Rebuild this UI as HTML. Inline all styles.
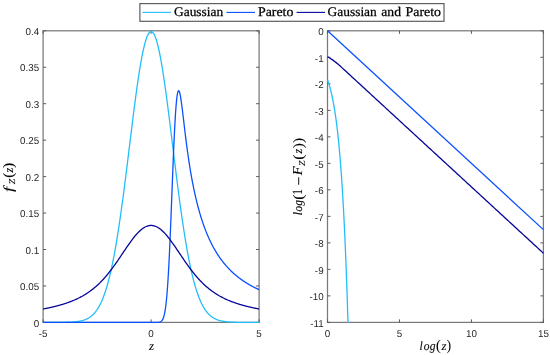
<!DOCTYPE html>
<html lang="en">
<head>
<meta charset="utf-8">
<title>Gaussian, Pareto, Gaussian and Pareto</title>
<style>
html,body{margin:0;padding:0;background:#ffffff;}
body{width:550px;height:355px;overflow:hidden;}
svg{display:block;}
</style>
</head>
<body>
<svg width="550" height="355" viewBox="0 0 550 355" text-rendering="geometricPrecision">
<rect x="0" y="0" width="550" height="355" fill="#ffffff"/>
<defs><clipPath id="cl"><rect x="42.4" y="30.1" width="217.4" height="293"/></clipPath><clipPath id="cr"><rect x="326.8" y="30.1" width="217.3" height="293"/></clipPath></defs>
<rect x="43.1" y="30.8" width="216" height="291.6" fill="none" stroke="#7a7a7a" stroke-width="1.25"/>
<path d="M43.10,322.4 v-3 M43.10,30.8 v3 M151.10,322.4 v-3 M151.10,30.8 v3 M259.10,322.4 v-3 M259.10,30.8 v3 M43.1,322.40 h3 M259.1,322.40 h-3 M43.1,285.95 h3 M259.1,285.95 h-3 M43.1,249.50 h3 M259.1,249.50 h-3 M43.1,213.05 h3 M259.1,213.05 h-3 M43.1,176.60 h3 M259.1,176.60 h-3 M43.1,140.15 h3 M259.1,140.15 h-3 M43.1,103.70 h3 M259.1,103.70 h-3 M43.1,67.25 h3 M259.1,67.25 h-3 M43.1,30.80 h3 M259.1,30.80 h-3 " fill="none" stroke="#5a5a5a" stroke-width="1"/>
<rect x="327.5" y="30.8" width="215.9" height="291.6" fill="none" stroke="#7a7a7a" stroke-width="1.25"/>
<path d="M327.50,322.4 v-3 M327.50,30.8 v3 M399.47,322.4 v-3 M399.47,30.8 v3 M471.43,322.4 v-3 M471.43,30.8 v3 M543.40,322.4 v-3 M543.40,30.8 v3 M327.5,30.80 h3 M543.4,30.80 h-3 M327.5,57.31 h3 M543.4,57.31 h-3 M327.5,83.82 h3 M543.4,83.82 h-3 M327.5,110.33 h3 M543.4,110.33 h-3 M327.5,136.84 h3 M543.4,136.84 h-3 M327.5,163.35 h3 M543.4,163.35 h-3 M327.5,189.85 h3 M543.4,189.85 h-3 M327.5,216.36 h3 M543.4,216.36 h-3 M327.5,242.87 h3 M543.4,242.87 h-3 M327.5,269.38 h3 M543.4,269.38 h-3 M327.5,295.89 h3 M543.4,295.89 h-3 M327.5,322.40 h3 M543.4,322.40 h-3 " fill="none" stroke="#5a5a5a" stroke-width="1"/>
<g font-family="'Liberation Sans', Arial, sans-serif" font-size="10px" fill="#262626">
<text transform="translate(43.10,336.6) scale(0.98,1)" text-anchor="middle">-5</text>
<text transform="translate(151.10,336.6) scale(0.98,1)" text-anchor="middle">0</text>
<text transform="translate(259.10,336.6) scale(0.98,1)" text-anchor="middle">5</text>
<text transform="translate(39.20,326.60) scale(0.98,1)" text-anchor="end">0</text>
<text transform="translate(39.20,290.15) scale(0.98,1)" text-anchor="end">0.05</text>
<text transform="translate(39.20,253.70) scale(0.98,1)" text-anchor="end">0.1</text>
<text transform="translate(39.20,217.25) scale(0.98,1)" text-anchor="end">0.15</text>
<text transform="translate(39.20,180.80) scale(0.98,1)" text-anchor="end">0.2</text>
<text transform="translate(39.20,144.35) scale(0.98,1)" text-anchor="end">0.25</text>
<text transform="translate(39.20,107.90) scale(0.98,1)" text-anchor="end">0.3</text>
<text transform="translate(39.20,71.45) scale(0.98,1)" text-anchor="end">0.35</text>
<text transform="translate(39.20,35.00) scale(0.98,1)" text-anchor="end">0.4</text>
<text transform="translate(327.50,336.6) scale(0.98,1)" text-anchor="middle">0</text>
<text transform="translate(399.47,336.6) scale(0.98,1)" text-anchor="middle">5</text>
<text transform="translate(471.43,336.6) scale(0.98,1)" text-anchor="middle">10</text>
<text transform="translate(543.40,336.6) scale(0.98,1)" text-anchor="middle">15</text>
<text transform="translate(323.60,35.00) scale(0.98,1)" text-anchor="end">0</text>
<text transform="translate(323.60,61.51) scale(0.98,1)" text-anchor="end">-1</text>
<text transform="translate(323.60,88.02) scale(0.98,1)" text-anchor="end">-2</text>
<text transform="translate(323.60,114.53) scale(0.98,1)" text-anchor="end">-3</text>
<text transform="translate(323.60,141.04) scale(0.98,1)" text-anchor="end">-4</text>
<text transform="translate(323.60,167.55) scale(0.98,1)" text-anchor="end">-5</text>
<text transform="translate(323.60,194.05) scale(0.98,1)" text-anchor="end">-6</text>
<text transform="translate(323.60,220.56) scale(0.98,1)" text-anchor="end">-7</text>
<text transform="translate(323.60,247.07) scale(0.98,1)" text-anchor="end">-8</text>
<text transform="translate(323.60,273.58) scale(0.98,1)" text-anchor="end">-9</text>
<text transform="translate(323.60,300.09) scale(0.98,1)" text-anchor="end">-10</text>
<text transform="translate(323.60,326.60) scale(0.98,1)" text-anchor="end">-11</text>
</g>
<g fill="none" stroke-width="1.3" stroke-linejoin="round" clip-path="url(#cl)">
<path d="M43.10,322.40 L43.64,322.40 L44.18,322.40 L44.72,322.40 L45.26,322.40 L45.80,322.40 L46.34,322.40 L46.88,322.40 L47.42,322.40 L47.96,322.40 L48.50,322.40 L49.04,322.40 L49.58,322.40 L50.12,322.39 L50.66,322.39 L51.20,322.39 L51.74,322.39 L52.28,322.39 L52.82,322.39 L53.36,322.39 L53.90,322.39 L54.44,322.39 L54.98,322.39 L55.52,322.38 L56.06,322.38 L56.60,322.38 L57.14,322.38 L57.68,322.37 L58.22,322.37 L58.76,322.37 L59.30,322.37 L59.84,322.36 L60.38,322.36 L60.92,322.35 L61.46,322.35 L62.00,322.34 L62.54,322.33 L63.08,322.33 L63.62,322.32 L64.16,322.31 L64.70,322.30 L65.24,322.29 L65.78,322.28 L66.32,322.27 L66.86,322.26 L67.40,322.24 L67.94,322.22 L68.48,322.21 L69.02,322.19 L69.56,322.17 L70.10,322.14 L70.64,322.12 L71.18,322.09 L71.72,322.06 L72.26,322.03 L72.80,321.99 L73.34,321.95 L73.88,321.91 L74.42,321.87 L74.96,321.82 L75.50,321.76 L76.04,321.71 L76.58,321.64 L77.12,321.58 L77.66,321.50 L78.20,321.42 L78.74,321.34 L79.28,321.24 L79.82,321.14 L80.36,321.04 L80.90,320.92 L81.44,320.80 L81.98,320.66 L82.52,320.52 L83.06,320.36 L83.60,320.20 L84.14,320.02 L84.68,319.83 L85.22,319.62 L85.76,319.40 L86.30,319.17 L86.84,318.92 L87.38,318.65 L87.92,318.37 L88.46,318.06 L89.00,317.74 L89.54,317.39 L90.08,317.02 L90.62,316.63 L91.16,316.21 L91.70,315.77 L92.24,315.30 L92.78,314.80 L93.32,314.28 L93.86,313.72 L94.40,313.12 L94.94,312.50 L95.48,311.84 L96.02,311.14 L96.56,310.40 L97.10,309.62 L97.64,308.80 L98.18,307.94 L98.72,307.03 L99.26,306.07 L99.80,305.07 L100.34,304.02 L100.88,302.91 L101.42,301.75 L101.96,300.53 L102.50,299.26 L103.04,297.93 L103.58,296.54 L104.12,295.09 L104.66,293.57 L105.20,291.99 L105.74,290.34 L106.28,288.62 L106.82,286.83 L107.36,284.97 L107.90,283.04 L108.44,281.04 L108.98,278.96 L109.52,276.80 L110.06,274.57 L110.60,272.25 L111.14,269.86 L111.68,267.40 L112.22,264.85 L112.76,262.22 L113.30,259.50 L113.84,256.71 L114.38,253.84 L114.92,250.88 L115.46,247.85 L116.00,244.73 L116.54,241.54 L117.08,238.26 L117.62,234.91 L118.16,231.49 L118.70,227.98 L119.24,224.40 L119.78,220.76 L120.32,217.04 L120.86,213.25 L121.40,209.40 L121.94,205.48 L122.48,201.50 L123.02,197.47 L123.56,193.39 L124.10,189.25 L124.64,185.07 L125.18,180.84 L125.72,176.57 L126.26,172.27 L126.80,167.94 L127.34,163.59 L127.88,159.21 L128.42,154.82 L128.96,150.41 L129.50,146.00 L130.04,141.59 L130.58,137.19 L131.12,132.80 L131.66,128.42 L132.20,124.07 L132.74,119.75 L133.28,115.46 L133.82,111.21 L134.36,107.02 L134.90,102.87 L135.44,98.79 L135.98,94.77 L136.52,90.82 L137.06,86.95 L137.60,83.17 L138.14,79.48 L138.68,75.89 L139.22,72.39 L139.76,69.01 L140.30,65.74 L140.84,62.60 L141.38,59.58 L141.92,56.69 L142.46,53.93 L143.00,51.32 L143.54,48.85 L144.08,46.53 L144.62,44.37 L145.16,42.36 L145.70,40.52 L146.24,38.84 L146.78,37.33 L147.32,35.99 L147.86,34.82 L148.40,33.83 L148.94,33.02 L149.48,32.39 L150.02,31.93 L150.56,31.66 L151.10,31.57 L151.64,31.66 L152.18,31.93 L152.72,32.39 L153.26,33.02 L153.80,33.83 L154.34,34.82 L154.88,35.99 L155.42,37.33 L155.96,38.84 L156.50,40.52 L157.04,42.36 L157.58,44.37 L158.12,46.53 L158.66,48.85 L159.20,51.32 L159.74,53.93 L160.28,56.69 L160.82,59.58 L161.36,62.60 L161.90,65.74 L162.44,69.01 L162.98,72.39 L163.52,75.89 L164.06,79.48 L164.60,83.17 L165.14,86.95 L165.68,90.82 L166.22,94.77 L166.76,98.79 L167.30,102.87 L167.84,107.02 L168.38,111.21 L168.92,115.46 L169.46,119.75 L170.00,124.07 L170.54,128.42 L171.08,132.80 L171.62,137.19 L172.16,141.59 L172.70,146.00 L173.24,150.41 L173.78,154.82 L174.32,159.21 L174.86,163.59 L175.40,167.94 L175.94,172.27 L176.48,176.57 L177.02,180.84 L177.56,185.07 L178.10,189.25 L178.64,193.39 L179.18,197.47 L179.72,201.50 L180.26,205.48 L180.80,209.40 L181.34,213.25 L181.88,217.04 L182.42,220.76 L182.96,224.40 L183.50,227.98 L184.04,231.49 L184.58,234.91 L185.12,238.26 L185.66,241.54 L186.20,244.73 L186.74,247.85 L187.28,250.88 L187.82,253.84 L188.36,256.71 L188.90,259.50 L189.44,262.22 L189.98,264.85 L190.52,267.40 L191.06,269.86 L191.60,272.25 L192.14,274.57 L192.68,276.80 L193.22,278.96 L193.76,281.04 L194.30,283.04 L194.84,284.97 L195.38,286.83 L195.92,288.62 L196.46,290.34 L197.00,291.99 L197.54,293.57 L198.08,295.09 L198.62,296.54 L199.16,297.93 L199.70,299.26 L200.24,300.53 L200.78,301.75 L201.32,302.91 L201.86,304.02 L202.40,305.07 L202.94,306.07 L203.48,307.03 L204.02,307.94 L204.56,308.80 L205.10,309.62 L205.64,310.40 L206.18,311.14 L206.72,311.84 L207.26,312.50 L207.80,313.12 L208.34,313.72 L208.88,314.28 L209.42,314.80 L209.96,315.30 L210.50,315.77 L211.04,316.21 L211.58,316.63 L212.12,317.02 L212.66,317.39 L213.20,317.74 L213.74,318.06 L214.28,318.37 L214.82,318.65 L215.36,318.92 L215.90,319.17 L216.44,319.40 L216.98,319.62 L217.52,319.83 L218.06,320.02 L218.60,320.20 L219.14,320.36 L219.68,320.52 L220.22,320.66 L220.76,320.80 L221.30,320.92 L221.84,321.04 L222.38,321.14 L222.92,321.24 L223.46,321.34 L224.00,321.42 L224.54,321.50 L225.08,321.58 L225.62,321.64 L226.16,321.71 L226.70,321.76 L227.24,321.82 L227.78,321.87 L228.32,321.91 L228.86,321.95 L229.40,321.99 L229.94,322.03 L230.48,322.06 L231.02,322.09 L231.56,322.12 L232.10,322.14 L232.64,322.17 L233.18,322.19 L233.72,322.21 L234.26,322.22 L234.80,322.24 L235.34,322.26 L235.88,322.27 L236.42,322.28 L236.96,322.29 L237.50,322.30 L238.04,322.31 L238.58,322.32 L239.12,322.33 L239.66,322.33 L240.20,322.34 L240.74,322.35 L241.28,322.35 L241.82,322.36 L242.36,322.36 L242.90,322.37 L243.44,322.37 L243.98,322.37 L244.52,322.37 L245.06,322.38 L245.60,322.38 L246.14,322.38 L246.68,322.38 L247.22,322.39 L247.76,322.39 L248.30,322.39 L248.84,322.39 L249.38,322.39 L249.92,322.39 L250.46,322.39 L251.00,322.39 L251.54,322.39 L252.08,322.39 L252.62,322.40 L253.16,322.40 L253.70,322.40 L254.24,322.40 L254.78,322.40 L255.32,322.40 L255.86,322.40 L256.40,322.40 L256.94,322.40 L257.48,322.40 L258.02,322.40 L258.56,322.40 L259.10,322.40" stroke="#22BEFA"/>
<path d="M43.10,322.40 L43.64,322.40 L44.18,322.40 L44.72,322.40 L45.26,322.40 L45.80,322.40 L46.34,322.40 L46.88,322.40 L47.42,322.40 L47.96,322.40 L48.50,322.40 L49.04,322.40 L49.58,322.40 L50.12,322.40 L50.66,322.40 L51.20,322.40 L51.74,322.40 L52.28,322.40 L52.82,322.40 L53.36,322.40 L53.90,322.40 L54.44,322.40 L54.98,322.40 L55.52,322.40 L56.06,322.40 L56.60,322.40 L57.14,322.40 L57.68,322.40 L58.22,322.40 L58.76,322.40 L59.30,322.40 L59.84,322.40 L60.38,322.40 L60.92,322.40 L61.46,322.40 L62.00,322.40 L62.54,322.40 L63.08,322.40 L63.62,322.40 L64.16,322.40 L64.70,322.40 L65.24,322.40 L65.78,322.40 L66.32,322.40 L66.86,322.40 L67.40,322.40 L67.94,322.40 L68.48,322.40 L69.02,322.40 L69.56,322.40 L70.10,322.40 L70.64,322.40 L71.18,322.40 L71.72,322.40 L72.26,322.40 L72.80,322.40 L73.34,322.40 L73.88,322.40 L74.42,322.40 L74.96,322.40 L75.50,322.40 L76.04,322.40 L76.58,322.40 L77.12,322.40 L77.66,322.40 L78.20,322.40 L78.74,322.40 L79.28,322.40 L79.82,322.40 L80.36,322.40 L80.90,322.40 L81.44,322.40 L81.98,322.40 L82.52,322.40 L83.06,322.40 L83.60,322.40 L84.14,322.40 L84.68,322.40 L85.22,322.40 L85.76,322.40 L86.30,322.40 L86.84,322.40 L87.38,322.40 L87.92,322.40 L88.46,322.40 L89.00,322.40 L89.54,322.40 L90.08,322.40 L90.62,322.40 L91.16,322.40 L91.70,322.40 L92.24,322.40 L92.78,322.40 L93.32,322.40 L93.86,322.40 L94.40,322.40 L94.94,322.40 L95.48,322.40 L96.02,322.40 L96.56,322.40 L97.10,322.40 L97.64,322.40 L98.18,322.40 L98.72,322.40 L99.26,322.40 L99.80,322.40 L100.34,322.40 L100.88,322.40 L101.42,322.40 L101.96,322.40 L102.50,322.40 L103.04,322.40 L103.58,322.40 L104.12,322.40 L104.66,322.40 L105.20,322.40 L105.74,322.40 L106.28,322.40 L106.82,322.40 L107.36,322.40 L107.90,322.40 L108.44,322.40 L108.98,322.40 L109.52,322.40 L110.06,322.40 L110.60,322.40 L111.14,322.40 L111.68,322.40 L112.22,322.40 L112.76,322.40 L113.30,322.40 L113.84,322.40 L114.38,322.40 L114.92,322.40 L115.46,322.40 L116.00,322.40 L116.54,322.40 L117.08,322.40 L117.62,322.40 L118.16,322.40 L118.70,322.40 L119.24,322.40 L119.78,322.40 L120.32,322.40 L120.86,322.40 L121.40,322.40 L121.94,322.40 L122.48,322.40 L123.02,322.40 L123.56,322.40 L124.10,322.40 L124.64,322.40 L125.18,322.40 L125.72,322.40 L126.26,322.40 L126.80,322.40 L127.34,322.40 L127.88,322.40 L128.42,322.40 L128.96,322.40 L129.50,322.40 L130.04,322.40 L130.58,322.40 L131.12,322.40 L131.66,322.40 L132.20,322.40 L132.74,322.40 L133.28,322.40 L133.82,322.40 L134.36,322.40 L134.90,322.40 L135.44,322.40 L135.98,322.40 L136.52,322.40 L137.06,322.40 L137.60,322.40 L138.14,322.40 L138.68,322.40 L139.22,322.40 L139.76,322.40 L140.30,322.40 L140.84,322.40 L141.38,322.40 L141.92,322.40 L142.46,322.40 L143.00,322.40 L143.54,322.40 L144.08,322.40 L144.62,322.40 L145.16,322.40 L145.70,322.40 L146.24,322.40 L146.78,322.40 L147.32,322.40 L147.86,322.40 L148.40,322.40 L148.94,322.40 L149.48,322.40 L150.02,322.40 L150.56,322.40 L151.10,322.40 L151.64,322.40 L152.18,322.40 L152.72,322.40 L153.26,322.40 L153.80,322.40 L154.34,322.40 L154.88,322.40 L155.42,322.39 L155.96,322.39 L156.50,322.38 L157.04,322.37 L157.58,322.34 L158.12,322.31 L158.66,322.25 L159.20,322.17 L159.74,322.05 L160.28,321.86 L160.82,321.59 L161.36,321.21 L161.90,320.67 L162.44,319.92 L162.98,318.90 L163.52,317.54 L164.06,315.75 L164.60,313.43 L165.14,310.48 L165.68,306.78 L166.22,302.24 L166.76,296.74 L167.30,290.21 L167.84,282.57 L168.38,273.80 L168.92,263.90 L169.46,252.92 L170.00,240.96 L170.54,228.17 L171.08,214.73 L171.62,200.89 L172.16,186.91 L172.70,173.06 L173.24,159.63 L173.78,146.90 L174.32,135.12 L174.86,124.51 L175.40,115.24 L175.94,107.42 L176.48,101.12 L177.02,96.35 L177.56,93.07 L178.10,91.20 L178.64,90.63 L179.18,91.21 L179.72,92.79 L180.26,95.21 L180.80,98.31 L181.34,101.95 L181.88,105.97 L182.42,110.28 L182.96,114.76 L183.50,119.33 L184.04,123.92 L184.58,128.48 L185.12,132.98 L185.66,137.38 L186.20,141.66 L186.74,145.82 L187.28,149.84 L187.82,153.73 L188.36,157.49 L188.90,161.11 L189.44,164.61 L189.98,167.99 L190.52,171.24 L191.06,174.39 L191.60,177.42 L192.14,180.35 L192.68,183.19 L193.22,185.93 L193.76,188.58 L194.30,191.14 L194.84,193.62 L195.38,196.03 L195.92,198.36 L196.46,200.62 L197.00,202.81 L197.54,204.93 L198.08,207.00 L198.62,209.00 L199.16,210.94 L199.70,212.83 L200.24,214.67 L200.78,216.45 L201.32,218.19 L201.86,219.88 L202.40,221.52 L202.94,223.12 L203.48,224.68 L204.02,226.19 L204.56,227.67 L205.10,229.11 L205.64,230.51 L206.18,231.88 L206.72,233.22 L207.26,234.52 L207.80,235.79 L208.34,237.03 L208.88,238.24 L209.42,239.42 L209.96,240.58 L210.50,241.70 L211.04,242.81 L211.58,243.88 L212.12,244.93 L212.66,245.96 L213.20,246.97 L213.74,247.96 L214.28,248.92 L214.82,249.86 L215.36,250.78 L215.90,251.69 L216.44,252.57 L216.98,253.44 L217.52,254.28 L218.06,255.12 L218.60,255.93 L219.14,256.73 L219.68,257.51 L220.22,258.27 L220.76,259.03 L221.30,259.76 L221.84,260.48 L222.38,261.19 L222.92,261.89 L223.46,262.57 L224.00,263.24 L224.54,263.90 L225.08,264.54 L225.62,265.17 L226.16,265.80 L226.70,266.41 L227.24,267.00 L227.78,267.59 L228.32,268.17 L228.86,268.74 L229.40,269.30 L229.94,269.85 L230.48,270.39 L231.02,270.92 L231.56,271.44 L232.10,271.95 L232.64,272.45 L233.18,272.95 L233.72,273.44 L234.26,273.91 L234.80,274.39 L235.34,274.85 L235.88,275.31 L236.42,275.76 L236.96,276.20 L237.50,276.63 L238.04,277.06 L238.58,277.48 L239.12,277.90 L239.66,278.31 L240.20,278.71 L240.74,279.11 L241.28,279.50 L241.82,279.88 L242.36,280.26 L242.90,280.63 L243.44,281.00 L243.98,281.36 L244.52,281.72 L245.06,282.07 L245.60,282.42 L246.14,282.76 L246.68,283.10 L247.22,283.43 L247.76,283.76 L248.30,284.08 L248.84,284.40 L249.38,284.71 L249.92,285.02 L250.46,285.33 L251.00,285.63 L251.54,285.93 L252.08,286.22 L252.62,286.51 L253.16,286.80 L253.70,287.08 L254.24,287.36 L254.78,287.63 L255.32,287.90 L255.86,288.17 L256.40,288.43 L256.94,288.69 L257.48,288.95 L258.02,289.21 L258.56,289.46 L259.10,289.70" stroke="#0A50FF"/>
<path d="M43.10,309.00 L43.64,308.90 L44.18,308.79 L44.72,308.69 L45.26,308.59 L45.80,308.48 L46.34,308.37 L46.88,308.26 L47.42,308.15 L47.96,308.04 L48.50,307.93 L49.04,307.81 L49.58,307.69 L50.12,307.58 L50.66,307.46 L51.20,307.34 L51.74,307.21 L52.28,307.09 L52.82,306.96 L53.36,306.83 L53.90,306.70 L54.44,306.57 L54.98,306.44 L55.52,306.30 L56.06,306.17 L56.60,306.03 L57.14,305.88 L57.68,305.74 L58.22,305.60 L58.76,305.45 L59.30,305.30 L59.84,305.15 L60.38,304.99 L60.92,304.84 L61.46,304.68 L62.00,304.52 L62.54,304.35 L63.08,304.19 L63.62,304.02 L64.16,303.85 L64.70,303.67 L65.24,303.50 L65.78,303.32 L66.32,303.13 L66.86,302.95 L67.40,302.76 L67.94,302.57 L68.48,302.38 L69.02,302.18 L69.56,301.98 L70.10,301.77 L70.64,301.57 L71.18,301.36 L71.72,301.14 L72.26,300.93 L72.80,300.70 L73.34,300.48 L73.88,300.25 L74.42,300.02 L74.96,299.78 L75.50,299.54 L76.04,299.30 L76.58,299.05 L77.12,298.79 L77.66,298.54 L78.20,298.27 L78.74,298.01 L79.28,297.74 L79.82,297.46 L80.36,297.18 L80.90,296.89 L81.44,296.60 L81.98,296.31 L82.52,296.00 L83.06,295.70 L83.60,295.38 L84.14,295.07 L84.68,294.74 L85.22,294.41 L85.76,294.08 L86.30,293.73 L86.84,293.39 L87.38,293.03 L87.92,292.67 L88.46,292.30 L89.00,291.93 L89.54,291.55 L90.08,291.16 L90.62,290.77 L91.16,290.37 L91.70,289.96 L92.24,289.54 L92.78,289.12 L93.32,288.69 L93.86,288.25 L94.40,287.80 L94.94,287.35 L95.48,286.89 L96.02,286.42 L96.56,285.94 L97.10,285.45 L97.64,284.96 L98.18,284.46 L98.72,283.94 L99.26,283.43 L99.80,282.90 L100.34,282.36 L100.88,281.81 L101.42,281.26 L101.96,280.70 L102.50,280.13 L103.04,279.55 L103.58,278.96 L104.12,278.36 L104.66,277.75 L105.20,277.14 L105.74,276.51 L106.28,275.88 L106.82,275.24 L107.36,274.59 L107.90,273.93 L108.44,273.26 L108.98,272.59 L109.52,271.90 L110.06,271.21 L110.60,270.51 L111.14,269.80 L111.68,269.09 L112.22,268.37 L112.76,267.64 L113.30,266.90 L113.84,266.16 L114.38,265.41 L114.92,264.65 L115.46,263.89 L116.00,263.12 L116.54,262.35 L117.08,261.57 L117.62,260.79 L118.16,260.00 L118.70,259.21 L119.24,258.41 L119.78,257.62 L120.32,256.82 L120.86,256.01 L121.40,255.21 L121.94,254.40 L122.48,253.60 L123.02,252.79 L123.56,251.98 L124.10,251.18 L124.64,250.37 L125.18,249.57 L125.72,248.77 L126.26,247.97 L126.80,247.18 L127.34,246.39 L127.88,245.61 L128.42,244.83 L128.96,244.06 L129.50,243.29 L130.04,242.54 L130.58,241.79 L131.12,241.04 L131.66,240.31 L132.20,239.59 L132.74,238.88 L133.28,238.18 L133.82,237.50 L134.36,236.82 L134.90,236.16 L135.44,235.52 L135.98,234.89 L136.52,234.27 L137.06,233.67 L137.60,233.09 L138.14,232.53 L138.68,231.98 L139.22,231.45 L139.76,230.94 L140.30,230.45 L140.84,229.98 L141.38,229.53 L141.92,229.10 L142.46,228.70 L143.00,228.31 L143.54,227.95 L144.08,227.61 L144.62,227.30 L145.16,227.01 L145.70,226.74 L146.24,226.50 L146.78,226.28 L147.32,226.09 L147.86,225.92 L148.40,225.78 L148.94,225.66 L149.48,225.57 L150.02,225.51 L150.56,225.47 L151.10,225.46 L151.64,225.47 L152.18,225.51 L152.72,225.57 L153.26,225.66 L153.80,225.78 L154.34,225.92 L154.88,226.09 L155.42,226.28 L155.96,226.50 L156.50,226.74 L157.04,227.01 L157.58,227.30 L158.12,227.61 L158.66,227.95 L159.20,228.31 L159.74,228.70 L160.28,229.10 L160.82,229.53 L161.36,229.98 L161.90,230.45 L162.44,230.94 L162.98,231.45 L163.52,231.98 L164.06,232.53 L164.60,233.09 L165.14,233.67 L165.68,234.27 L166.22,234.89 L166.76,235.52 L167.30,236.16 L167.84,236.82 L168.38,237.50 L168.92,238.18 L169.46,238.88 L170.00,239.59 L170.54,240.31 L171.08,241.04 L171.62,241.79 L172.16,242.54 L172.70,243.29 L173.24,244.06 L173.78,244.83 L174.32,245.61 L174.86,246.39 L175.40,247.18 L175.94,247.97 L176.48,248.77 L177.02,249.57 L177.56,250.37 L178.10,251.18 L178.64,251.98 L179.18,252.79 L179.72,253.60 L180.26,254.40 L180.80,255.21 L181.34,256.01 L181.88,256.82 L182.42,257.62 L182.96,258.41 L183.50,259.21 L184.04,260.00 L184.58,260.79 L185.12,261.57 L185.66,262.35 L186.20,263.12 L186.74,263.89 L187.28,264.65 L187.82,265.41 L188.36,266.16 L188.90,266.90 L189.44,267.64 L189.98,268.37 L190.52,269.09 L191.06,269.80 L191.60,270.51 L192.14,271.21 L192.68,271.90 L193.22,272.59 L193.76,273.26 L194.30,273.93 L194.84,274.59 L195.38,275.24 L195.92,275.88 L196.46,276.51 L197.00,277.14 L197.54,277.75 L198.08,278.36 L198.62,278.96 L199.16,279.55 L199.70,280.13 L200.24,280.70 L200.78,281.26 L201.32,281.81 L201.86,282.36 L202.40,282.90 L202.94,283.43 L203.48,283.94 L204.02,284.46 L204.56,284.96 L205.10,285.45 L205.64,285.94 L206.18,286.42 L206.72,286.89 L207.26,287.35 L207.80,287.80 L208.34,288.25 L208.88,288.69 L209.42,289.12 L209.96,289.54 L210.50,289.96 L211.04,290.37 L211.58,290.77 L212.12,291.16 L212.66,291.55 L213.20,291.93 L213.74,292.30 L214.28,292.67 L214.82,293.03 L215.36,293.39 L215.90,293.73 L216.44,294.08 L216.98,294.41 L217.52,294.74 L218.06,295.07 L218.60,295.38 L219.14,295.70 L219.68,296.00 L220.22,296.31 L220.76,296.60 L221.30,296.89 L221.84,297.18 L222.38,297.46 L222.92,297.74 L223.46,298.01 L224.00,298.27 L224.54,298.54 L225.08,298.79 L225.62,299.05 L226.16,299.30 L226.70,299.54 L227.24,299.78 L227.78,300.02 L228.32,300.25 L228.86,300.48 L229.40,300.70 L229.94,300.93 L230.48,301.14 L231.02,301.36 L231.56,301.57 L232.10,301.77 L232.64,301.98 L233.18,302.18 L233.72,302.38 L234.26,302.57 L234.80,302.76 L235.34,302.95 L235.88,303.13 L236.42,303.32 L236.96,303.50 L237.50,303.67 L238.04,303.85 L238.58,304.02 L239.12,304.19 L239.66,304.35 L240.20,304.52 L240.74,304.68 L241.28,304.84 L241.82,304.99 L242.36,305.15 L242.90,305.30 L243.44,305.45 L243.98,305.60 L244.52,305.74 L245.06,305.88 L245.60,306.03 L246.14,306.17 L246.68,306.30 L247.22,306.44 L247.76,306.57 L248.30,306.70 L248.84,306.83 L249.38,306.96 L249.92,307.09 L250.46,307.21 L251.00,307.34 L251.54,307.46 L252.08,307.58 L252.62,307.69 L253.16,307.81 L253.70,307.93 L254.24,308.04 L254.78,308.15 L255.32,308.26 L255.86,308.37 L256.40,308.48 L256.94,308.59 L257.48,308.69 L258.02,308.79 L258.56,308.90 L259.10,309.00" stroke="#06069A"/>
</g>
<g fill="none" stroke-width="1.3" stroke-linejoin="round" clip-path="url(#cr)">
<path d="M327.50,79.60 L327.79,80.42 L328.08,81.27 L328.36,82.14 L328.65,83.05 L328.94,83.97 L329.23,84.93 L329.52,85.92 L329.80,86.94 L330.09,87.99 L330.38,89.08 L330.67,90.20 L330.95,91.36 L331.24,92.56 L331.53,93.79 L331.82,95.07 L332.11,96.39 L332.39,97.75 L332.68,99.16 L332.97,100.61 L333.26,102.11 L333.55,103.67 L333.83,105.27 L334.12,106.93 L334.41,108.65 L334.70,110.43 L334.98,112.26 L335.27,114.16 L335.56,116.13 L335.85,118.16 L336.14,120.27 L336.42,122.45 L336.71,124.70 L337.00,127.04 L337.29,129.45 L337.58,131.96 L337.86,134.55 L338.15,137.23 L338.44,140.01 L338.73,142.89 L339.01,145.88 L339.30,148.97 L339.59,152.17 L339.88,155.50 L340.17,158.94 L340.45,162.51 L340.74,166.21 L341.03,170.04 L341.32,174.02 L341.61,178.14 L341.89,182.42 L342.18,186.86 L342.47,191.46 L342.76,196.23 L343.04,201.19 L343.33,206.33 L343.62,211.66 L343.91,217.20 L344.20,222.94 L344.48,228.90 L344.77,235.09 L345.06,241.52 L345.35,248.19 L345.64,255.11 L345.92,262.30 L346.21,269.77 L346.50,277.53 L346.79,285.58 L347.07,293.94 L347.36,302.63 L347.65,311.66 L347.94,321.03 L348.23,330.77 L348.51,340.89 L348.80,351.41 L349.09,362.33 L349.38,373.69 L349.67,385.48 L349.95,397.74 L350.24,410.49 L350.53,423.73" stroke="#22BEFA"/>
<path d="M327.50,30.80 L543.40,229.62" stroke="#0A50FF"/>
<path d="M327.50,56.75 L328.94,57.55 L330.38,58.43 L331.82,59.37 L333.26,60.39 L334.70,61.47 L336.14,62.62 L337.58,63.82 L339.01,65.06 L340.45,66.34 L341.89,67.64 L343.33,68.95 L344.77,70.27 L346.21,71.60 L347.65,72.92 L349.09,74.25 L350.53,75.57 L351.97,76.90 L353.41,78.22 L354.85,79.55 L356.29,80.87 L357.73,82.20 L359.17,83.53 L360.60,84.85 L362.04,86.18 L363.48,87.50 L364.92,88.83 L366.36,90.15 L367.80,91.48 L369.24,92.80 L370.68,94.13 L372.12,95.45 L373.56,96.78 L375.00,98.11 L376.44,99.43 L377.88,100.76 L379.32,102.08 L380.76,103.41 L382.19,104.73 L383.63,106.06 L385.07,107.38 L386.51,108.71 L387.95,110.03 L389.39,111.36 L390.83,112.69 L392.27,114.01 L393.71,115.34 L395.15,116.66 L396.59,117.99 L398.03,119.31 L399.47,120.64 L400.91,121.96 L402.35,123.29 L403.78,124.61 L405.22,125.94 L406.66,127.27 L408.10,128.59 L409.54,129.92 L410.98,131.24 L412.42,132.57 L413.86,133.89 L415.30,135.22 L416.74,136.54 L418.18,137.87 L419.62,139.19 L421.06,140.52 L422.50,141.85 L423.94,143.17 L425.37,144.50 L426.81,145.82 L428.25,147.15 L429.69,148.47 L431.13,149.80 L432.57,151.12 L434.01,152.45 L435.45,153.77 L436.89,155.10 L438.33,156.43 L439.77,157.75 L441.21,159.08 L442.65,160.40 L444.09,161.73 L445.53,163.05 L446.96,164.38 L448.40,165.70 L449.84,167.03 L451.28,168.35 L452.72,169.68 L454.16,171.01 L455.60,172.33 L457.04,173.66 L458.48,174.98 L459.92,176.31 L461.36,177.63 L462.80,178.96 L464.24,180.28 L465.68,181.61 L467.12,182.93 L468.55,184.26 L469.99,185.59 L471.43,186.91 L472.87,188.24 L474.31,189.56 L475.75,190.89 L477.19,192.21 L478.63,193.54 L480.07,194.86 L481.51,196.19 L482.95,197.51 L484.39,198.84 L485.83,200.17 L487.27,201.49 L488.71,202.82 L490.14,204.14 L491.58,205.47 L493.02,206.79 L494.46,208.12 L495.90,209.44 L497.34,210.77 L498.78,212.09 L500.22,213.42 L501.66,214.75 L503.10,216.07 L504.54,217.40 L505.98,218.72 L507.42,220.05 L508.86,221.37 L510.30,222.70 L511.73,224.02 L513.17,225.35 L514.61,226.67 L516.05,228.00 L517.49,229.33 L518.93,230.65 L520.37,231.98 L521.81,233.30 L523.25,234.63 L524.69,235.95 L526.13,237.28 L527.57,238.60 L529.01,239.93 L530.45,241.25 L531.89,242.58 L533.32,243.91 L534.76,245.23 L536.20,246.56 L537.64,247.88 L539.08,249.21 L540.52,250.53 L541.96,251.86 L543.40,253.18" stroke="#06069A"/>
</g>
<rect x="139.9" y="3.6" width="304.1" height="17.7" fill="#ffffff" stroke="#5e5e5e" stroke-width="1.2"/>
<g fill="none" stroke-width="1.1">
<path d="M142.5,12.4 H171" stroke="#22BEFA"/>
<path d="M226.4,12.4 H255" stroke="#0A50FF"/>
<path d="M296.6,12.4 H325" stroke="#06069A"/>
</g>
<g font-family="'Liberation Serif', 'Times New Roman', serif" font-size="13.2px" fill="#000000" stroke="#000000" stroke-width="0.25">
<text x="174" y="15.7" textLength="49.2" lengthAdjust="spacingAndGlyphs">Gaussian</text>
<text x="258" y="15.7" textLength="35.4" lengthAdjust="spacingAndGlyphs">Pareto</text>
<text x="327.6" y="15.7" textLength="49.2" lengthAdjust="spacingAndGlyphs">Gaussian</text>
<text x="381.3" y="15.7" textLength="19.7" lengthAdjust="spacingAndGlyphs">and</text>
<text x="405.6" y="15.7" textLength="35.4" lengthAdjust="spacingAndGlyphs">Pareto</text>
</g>
<g font-family="'Liberation Serif', 'Times New Roman', serif" fill="#000000" stroke="#000000" stroke-width="0.1" transform="translate(0,349.8)">
<text transform="translate(148.95,0.00) scale(1.022,1)" font-size="12.64px" font-style="italic">z</text>
<text transform="scale(0.92,1)" x="456.10 460.65 467.09" y="0" font-size="12.6px" font-style="italic">log</text>
<text transform="translate(435.88,0.40) scale(0.963,1)" font-size="14.56px" font-style="normal">(</text><text transform="translate(441.45,0.00) scale(1.022,1)" font-size="12.64px" font-style="italic">z</text><text transform="translate(446.79,0.40) scale(0.883,1)" font-size="14.56px" font-style="normal">)</text>
</g>
<g font-family="'Liberation Serif', 'Times New Roman', serif" fill="#000000" stroke="#000000" stroke-width="0.1" transform="translate(12.6,192.5) rotate(-90)">
<text transform="translate(0.54,0.67) scale(1.300,1)" font-size="13.74px" font-style="italic">f</text><text transform="translate(8.18,2.60) scale(1.047,1)" font-size="9.16px" font-style="italic">Z</text><text transform="translate(14.63,0.40) scale(1.043,1)" font-size="14.56px" font-style="normal">(</text><text transform="translate(20.03,0.00) scale(0.924,1)" font-size="12.85px" font-style="italic">z</text><text transform="translate(24.49,0.40) scale(1.097,1)" font-size="14.56px" font-style="normal">)</text>
</g>
<g font-family="'Liberation Serif', 'Times New Roman', serif" fill="#000000" stroke="#000000" stroke-width="0.1" transform="translate(302.2,215.6) rotate(-90)">
<text transform="scale(0.9,1)" x="0.33 4.68 11.09" y="0" font-size="12.6px" font-style="italic">log</text>
<text transform="translate(15.92,0.40) scale(1.070,1)" font-size="14.56px" font-style="normal">(</text><text transform="translate(20.73,0.00) scale(0.800,1)" font-size="14.09px" font-style="normal">1</text><text transform="translate(30.00,1.83) scale(1.003,1)" font-size="16.06px" font-style="normal">−</text><text transform="translate(40.28,0.00) scale(1.060,1)" font-size="13.59px" font-style="italic">F</text><text transform="translate(49.48,2.60) scale(1.087,1)" font-size="9.16px" font-style="italic">Z</text><text transform="translate(55.92,0.40) scale(1.070,1)" font-size="14.56px" font-style="normal">(</text><text transform="translate(62.03,0.00) scale(0.924,1)" font-size="12.85px" font-style="italic">z</text><text transform="translate(67.41,0.40) scale(1.043,1)" font-size="14.56px" font-style="normal">)</text><text transform="translate(72.71,0.40) scale(1.043,1)" font-size="14.56px" font-style="normal">)</text>
</g>
</svg>
</body>
</html>
